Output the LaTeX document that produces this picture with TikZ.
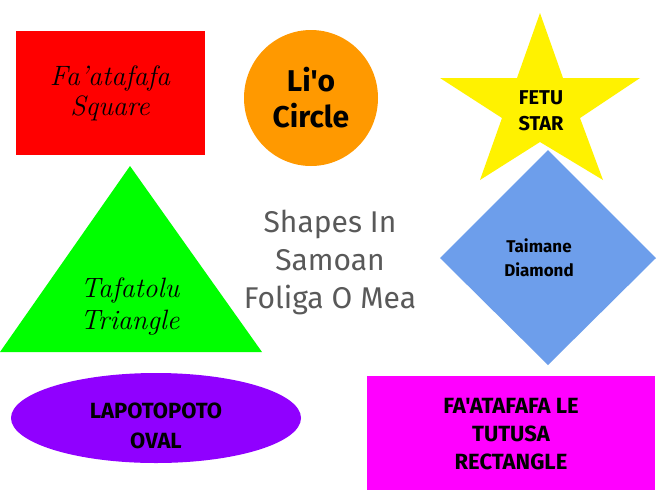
\documentclass[tikz,border=0pt]{standalone}
\usepackage{fontspec}
\newfontfamily\sans{Fira Sans}
\usetikzlibrary{shapes.geometric}
\definecolor{cOr}{RGB}{255,153,0}
\definecolor{cBl}{RGB}{109,158,235}
\definecolor{cPu}{RGB}{144,0,255}
\definecolor{cMa}{RGB}{255,0,255}
\begin{document}
\begin{tikzpicture}[x=1pt,y=-1pt,
  lbl/.style={align=center,text=black,inner sep=0pt}]
\useasboundingbox (0,0) rectangle (662,491);
\fill[white] (0,0) rectangle (662,491);
\fill[red] (16,31) rectangle (205,155);
\node[lbl,font=\itshape\fontsize{28}{30}\selectfont] (sq) at (110,93) {Fa'atafafa\\Square};
\fill[cOr] (311,98) ellipse (67 and 68);
\node[lbl,font=\sans\bfseries\fontsize{30}{36}\selectfont] (ci) at (311,98) {Li'o\\Circle};
\fill[yellow] (540,13) -- (563,78) -- (640,78) -- (580,118) -- (603,180) -- (540,142) -- (480,180) -- (502,118) -- (440,78) -- (517,78) -- cycle;
\node[lbl,font=\sans\bfseries\fontsize{20}{26}\selectfont] (st) at (541,111) {FETU\\STAR};
\fill[green] (130,166) -- (262,352) -- (0,352) -- cycle;
\node[lbl,font=\itshape\fontsize{28}{32}\selectfont] (tr) at (130,306) {Tafatolu\\Triangle};
\fill[cBl] (548,150) -- (656,258) -- (548,365) -- (440,258) -- cycle;
\node[lbl,font=\sans\bfseries\fontsize{17}{24}\selectfont] (di) at (539,258) {Taimane\\Diamond};
\fill[cPu] (156,418) ellipse (145 and 45);
\node[lbl,font=\sans\bfseries\fontsize{22}{30}\selectfont] (ov) at (156,426) {LAPOTOPOTO\\OVAL};
\fill[cMa] (367,376) rectangle (655,490);
\node[lbl,font=\sans\bfseries\fontsize{22}{28}\selectfont] (re) at (511,434) {FA'ATAFAFA LE\\TUTUSA\\RECTANGLE};
\node[lbl,text=gray!70!black,font=\sans\fontsize{30}{38}\selectfont] (ti) at (330,262) {Shapes In\\Samoan\\Foliga O Mea};
\end{tikzpicture}
\end{document}
